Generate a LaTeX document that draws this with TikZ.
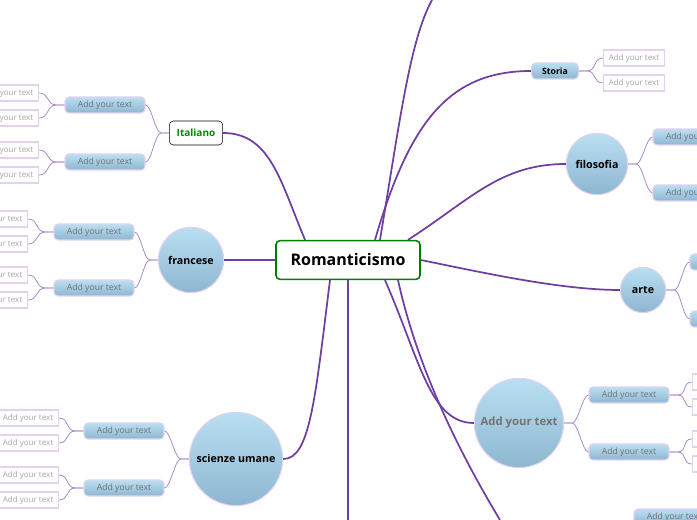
\documentclass[tikz,border=0pt]{standalone}
\usepackage{fontspec}
\setmainfont{Open Sans}
\usetikzlibrary{positioning}
\definecolor{trunk}{HTML}{6E3FA0}
\definecolor{twig}{HTML}{A98BC8}
\definecolor{rim}{HTML}{E2D2EE}
\definecolor{skytop}{HTML}{BADFF2}
\definecolor{skybot}{HTML}{8DB6D0}
\tikzset{main/.style={draw=trunk,line width=1.3pt}}
\tikzset{twg/.style={draw=twig,line width=0.6pt}}
\tikzset{ball/.style={circle,draw=rim,line width=0.8pt,top color=skytop,bottom color=skybot,inner sep=0pt,font=\bfseries\fontsize{8}{8}\selectfont}}
\tikzset{pill/.style={rounded corners=3pt,draw=rim,line width=0.8pt,top color=skytop,bottom color=skybot,minimum width=60pt,minimum height=12pt,inner sep=1pt,text=gray!90!black,font=\fontsize{6.5}{6.5}\selectfont}}
\tikzset{leaf/.style={draw=rim,fill=white,line width=0.8pt,minimum width=46pt,minimum height=12pt,inner sep=1pt,text=gray!70,font=\fontsize{6}{6}\selectfont}}
\begin{document}
\begin{tikzpicture}[x=0.75pt,y=-0.75pt]
  \useasboundingbox (0,0) rectangle (697,520);
  % centre
  \node (root) [draw=green!50!black,line width=1.2pt,rounded corners=3pt,fill=white,minimum width=108pt,minimum height=29pt,font=\bfseries\fontsize{12}{12}\selectfont] at (348,260) {Romanticismo};
  \coordinate (top) at (432,0);
  \coordinate (down) at (348,520);
  \coordinate (low) at (500,520);
  % main branches
  \node (ita) [draw,rounded corners=3pt,fill=white,minimum width=40pt,minimum height=18pt,text=green!55!black,font=\bfseries\fontsize{7.5}{7.5}\selectfont] at (196,133) {Italiano};
  \node (fra) [ball,minimum size=49pt] at (191,260) {francese};
  \node (sci) [ball,minimum size=70pt] at (236,459) {scienze umane};
  \node (sto) [pill,minimum width=35pt,text=black,font=\bfseries\fontsize{6.5}{6.5}\selectfont] at (555,71) {Storia};
  \node (fil) [ball,minimum size=46pt] at (597,164) {filosofia};
  \node (art) [ball,minimum size=34pt] at (643,290) {arte};
  \node (add) [ball,minimum size=67pt,font=\bfseries\fontsize{8.5}{8.5}\selectfont,text=gray!90!black] at (519,423) {Add your text};
  \draw[main] (root.north)++(32,0) .. controls (400,120) and (410,40) .. (top);
  \draw[main] (root.south) -- (down);
  \draw[main] (root.south)++(50,0) .. controls (420,380) and (470,470) .. (low);
  \draw[main] (root.north)++(-43,0) .. controls (280,180) and (270,133) .. (ita.east);
  \draw[main] (root.west) -- (fra.east);
  \draw[main] (root.south)++(-18,0) .. controls (315,400) and (310,459) .. (sci.east);
  \draw[main] (root.north)++(27,0) .. controls (410,120) and (450,71) .. (sto.west);
  \draw[main] (root.north)++(60,0) .. controls (470,200) and (500,164) .. (fil.west);
  \draw[main] (root.east) .. controls (480,272) and (560,290) .. (art.west);
  \draw[main] (root.south)++(37,0) .. controls (420,360) and (430,423) .. (add.west);
  % second level
  \foreach \name/\x/\y in {ia/105/105,ib/105/162,fa/94/232,fb/94/288,sa/124/431,sb/124/488,da/629/395,db/629/452}
    \node (\name) [pill] at (\x,\y) {Add your text};
  \foreach \name/\x/\y in {fia/693/137,fib/693/193,ara/730/262,arb/730/319,bot/674/517}
    \node (\name) [pill] at (\x,\y) {Add your text};
  \foreach \p/\c in {ita/ia,ita/ib,fra/fa,fra/fb,sci/sa,sci/sb}
    \draw[twg] (\p.west) -- ++(-8,0) .. controls +(-6,0) and +(6,0) .. (\c.east);
  \foreach \p/\c in {fil/fia,fil/fib,art/ara,art/arb,add/da,add/db}
    \draw[twg] (\p.east) -- ++(8,0) .. controls +(6,0) and +(-6,0) .. (\c.west);
  % leaves
  \foreach \name/\x/\y in {ia1/8/93,ia2/8/118,ib1/8/150,ib2/8/175,fa1/-3/219,fa2/-3/244,fb1/-3/275,fb2/-3/300,sa1/28/418,sa2/28/443,sb1/28/475,sb2/28/500}
    \node (\name) [leaf] at (\x,\y) {Add your text};
  \foreach \name/\x/\y in {st1/634/58,st2/634/83,da1/723/382,da2/723/407,db1/723/439,db2/723/464}
    \node (\name) [leaf] at (\x,\y) {Add your text};
  \foreach \p/\c in {ia/ia1,ia/ia2,ib/ib1,ib/ib2,fa/fa1,fa/fa2,fb/fb1,fb/fb2,sa/sa1,sa/sa2,sb/sb1,sb/sb2}
    \draw[twg] (\p.west) -- ++(-8,0) .. controls +(-10,0) and +(10,0) .. (\c.east);
  \foreach \p/\c in {sto/st1,sto/st2,da/da1,da/da2,db/db1,db/db2}
    \draw[twg] (\p.east) -- ++(8,0) .. controls +(10,0) and +(-10,0) .. (\c.west);
\end{tikzpicture}
\end{document}
